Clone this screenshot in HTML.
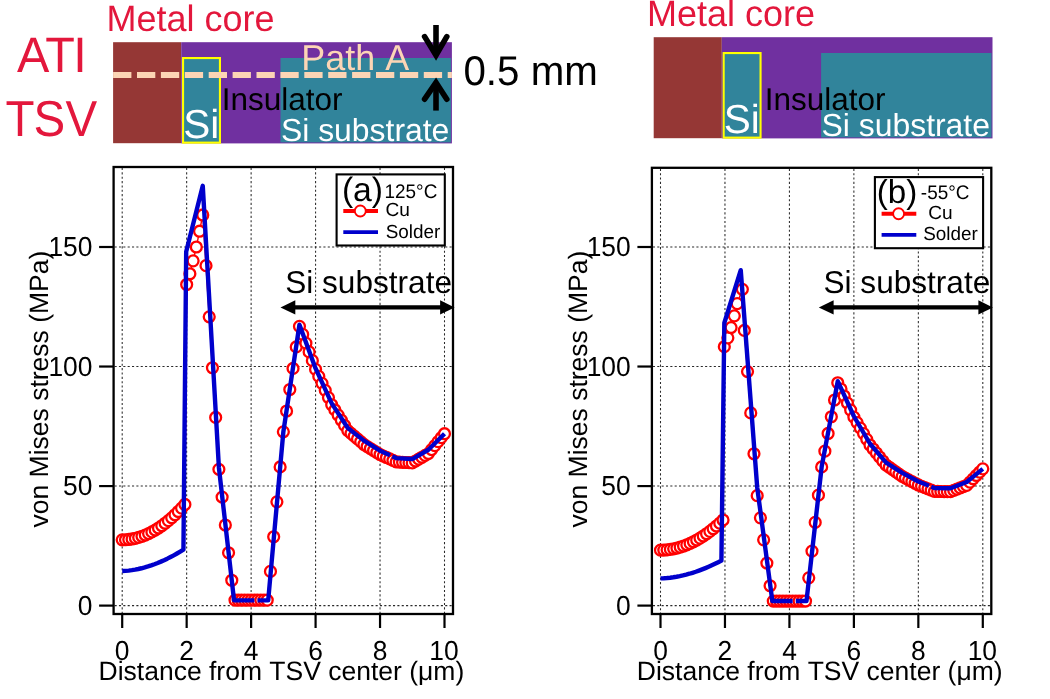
<!DOCTYPE html>
<html><head><meta charset="utf-8"><style>
html,body{margin:0;padding:0;background:#fff;}
body{width:1050px;height:699px;overflow:hidden;}
svg{display:block;will-change:transform;}
text{font-family:"Liberation Sans", sans-serif;font-kerning:none;text-rendering:geometricPrecision;}
</style></head><body>
<svg width="1050" height="699" viewBox="0 0 1050 699" font-family='"Liberation Sans", sans-serif'>
<rect width="1050" height="699" fill="#fff"/>
<rect x="113.10" y="42.20" width="68.10" height="101.00" fill="#953735"/>
<rect x="181.20" y="42.20" width="270.70" height="101.20" fill="#7030a0"/>
<rect x="280.50" y="58.00" width="170.40" height="84.40" fill="#31849b"/>
<rect x="183.05" y="58.05" width="36.9" height="84.6" fill="#31849b" stroke="#ffff00" stroke-width="2.1"/>
<line x1="113.10" y1="74.90" x2="451.90" y2="74.90" stroke="#fcd5b5" stroke-width="6" stroke-dasharray="18.3 5.6"/>
<text x="301.36" y="70.40" font-size="35.9" fill="#fcd5b5" >Path A</text>
<text x="221.69" y="110.10" font-size="31.5" fill="#000" >Insulator</text>
<text x="183.16" y="137.60" font-size="40.5" fill="#fff" >Si</text>
<text x="280.95" y="141.40" font-size="31.9" fill="#fff" >Si substrate</text>
<text transform="translate(106.45,30.60) scale(1,1.02)" x="0" y="0" font-size="36.0" fill="#e3173c" >Metal core</text>
<rect x="653.70" y="37.20" width="68.10" height="101.00" fill="#953735"/>
<rect x="721.80" y="37.20" width="270.70" height="101.20" fill="#7030a0"/>
<rect x="821.10" y="53.00" width="170.40" height="84.40" fill="#31849b"/>
<rect x="723.65" y="53.05" width="36.9" height="84.6" fill="#31849b" stroke="#ffff00" stroke-width="2.1"/>
<text x="764.79" y="109.90" font-size="31.5" fill="#000" >Insulator</text>
<text x="723.76" y="132.60" font-size="40.5" fill="#fff" >Si</text>
<text x="821.55" y="136.40" font-size="31.9" fill="#fff" >Si substrate</text>
<text transform="translate(647.05,25.60) scale(1,1.02)" x="0" y="0" font-size="36.0" fill="#e3173c" >Metal core</text>
<text transform="translate(0,71.9) scale(1,1.027)" x="16.9 45.3 73.3" y="0" font-size="48.5" fill="#e3173c">ATI</text>
<text transform="translate(0,136.0) scale(1,1.065)" x="5.43 33.54 65.49" y="0" font-size="47.5" fill="#e3173c">TSV</text>
<text transform="translate(463.43,84.60) scale(1,1.03)" x="0" y="0" font-size="40.3" fill="#000" >0.5 mm</text>
<g stroke="#000" stroke-width="5.6" fill="none" stroke-linecap="round" stroke-linejoin="miter">
<line x1="436" y1="25" x2="436" y2="54" stroke-linecap="butt"/>
<polyline points="424.6,36.6 436,55.2 446.8,36.6"/>
<line x1="436" y1="84" x2="436" y2="110.6" stroke-linecap="butt"/>
<polyline points="424.6,99.2 436,82.6 446.8,99.2"/>
</g>
<g stroke="#2a2a2a" stroke-width="1.05" stroke-dasharray="2.1 2.25" fill="none">
<line x1="122.20" y1="168.00" x2="122.20" y2="613.00"/>
<line x1="186.66" y1="168.00" x2="186.66" y2="613.00"/>
<line x1="251.12" y1="168.00" x2="251.12" y2="613.00"/>
<line x1="315.58" y1="168.00" x2="315.58" y2="613.00"/>
<line x1="380.04" y1="168.00" x2="380.04" y2="613.00"/>
<line x1="444.50" y1="168.00" x2="444.50" y2="613.00"/>
<line x1="114.60" y1="605.60" x2="452.00" y2="605.60"/>
<line x1="114.60" y1="486.07" x2="452.00" y2="486.07"/>
<line x1="114.60" y1="366.53" x2="452.00" y2="366.53"/>
<line x1="114.60" y1="247.00" x2="452.00" y2="247.00"/>
</g>
<g stroke="#000" stroke-width="2.2">
<line x1="122.20" y1="614.00" x2="122.20" y2="628.00"/>
<line x1="186.66" y1="614.00" x2="186.66" y2="628.00"/>
<line x1="251.12" y1="614.00" x2="251.12" y2="628.00"/>
<line x1="315.58" y1="614.00" x2="315.58" y2="628.00"/>
<line x1="380.04" y1="614.00" x2="380.04" y2="628.00"/>
<line x1="444.50" y1="614.00" x2="444.50" y2="628.00"/>
<line x1="99.10" y1="605.60" x2="113.60" y2="605.60"/>
<line x1="99.10" y1="486.07" x2="113.60" y2="486.07"/>
<line x1="99.10" y1="366.53" x2="113.60" y2="366.53"/>
<line x1="99.10" y1="247.00" x2="113.60" y2="247.00"/>
</g>
<text transform="translate(114.86,660.00) scale(1,1.04)" font-size="26.4" fill="#000">0</text>
<text transform="translate(179.32,660.00) scale(1,1.04)" font-size="26.4" fill="#000">2</text>
<text transform="translate(243.86,660.00) scale(1,1.04)" font-size="26.4" fill="#000">4</text>
<text transform="translate(308.15,660.00) scale(1,1.04)" font-size="26.4" fill="#000">6</text>
<text transform="translate(372.70,660.00) scale(1,1.04)" font-size="26.4" fill="#000">8</text>
<text transform="translate(429.33,660.00) scale(1,1.04)" font-size="26.4" fill="#000">10</text>
<text transform="translate(77.75,615.00) scale(1,1.04)" font-size="26.4" fill="#000">0</text>
<text transform="translate(63.07,495.47) scale(1,1.04)" font-size="26.4" fill="#000">50</text>
<text transform="translate(48.38,375.93) scale(1,1.04)" font-size="26.4" fill="#000">100</text>
<text transform="translate(48.38,256.40) scale(1,1.04)" font-size="26.4" fill="#000">150</text>
<text x="98.53" y="680.00" font-size="26.5" fill="#000" >Distance from TSV center (μm)</text>
<text transform="translate(48.30,527.49) rotate(-90)" x="0" y="0" font-size="26.5">von Mises stress (MPa)</text>
<text x="285.17" y="292.60" font-size="31.6" fill="#000" >Si substrate</text>
<line x1="293.00" y1="307.4" x2="442.00" y2="307.4" stroke="#000" stroke-width="4.4"/>
<polygon points="280.50,307.4 295.30,300.2 295.30,314.59999999999997" fill="#000"/>
<polygon points="454.60,307.4 440.10,300.2 440.10,314.59999999999997" fill="#000"/>
<polyline points="122.20,539.86 125.50,539.76 128.80,539.46 132.10,538.97 135.40,538.29 138.70,537.41 142.00,536.33 145.30,535.05 148.59,533.58 151.89,531.92 155.19,530.05 158.49,528.00 161.79,525.74 165.09,523.29 168.39,520.65 171.69,517.80 174.99,514.76 178.29,511.53 181.59,508.10 184.89,504.47 186.66,284.53 189.88,273.77 193.11,260.86 196.33,247.00 199.55,231.22 202.77,214.96 206.00,265.64 209.22,316.80 212.44,367.73 215.67,417.45 218.89,469.33 222.11,497.06 225.34,525.03 228.56,552.77 231.78,580.26 235.00,600.10 238.23,600.10 241.45,600.10 244.67,600.10 247.90,600.10 251.12,600.10 254.34,600.10 257.57,600.10 260.79,600.10 264.01,600.10 267.24,600.10 270.46,571.41 273.68,536.75 276.90,501.84 280.13,466.94 283.35,431.80 286.57,411.00 289.80,389.48 293.02,368.44 296.24,346.93 299.46,326.37 302.69,334.40 305.91,343.15 309.13,351.90 312.36,360.65 315.58,369.40 318.80,376.38 322.03,383.36 325.25,390.34 328.47,397.56 331.69,404.78 334.92,409.95 338.14,415.11 341.36,420.27 344.59,425.44 347.81,430.60 351.03,433.37 354.26,436.15 357.48,438.92 360.70,441.69 363.92,444.47 367.15,446.48 370.37,448.48 373.59,450.49 376.82,452.50 380.04,454.51 383.26,455.99 386.49,457.47 389.71,458.95 392.93,460.44 396.15,461.92 399.38,462.11 402.60,462.30 405.82,462.49 409.05,462.68 412.27,462.88 415.49,461.01 418.72,459.15 421.94,457.28 425.16,455.42 428.38,453.55 431.61,449.58 434.83,445.61 438.05,441.65 441.28,437.68 444.50,433.71" fill="none" stroke="#ff0000" stroke-width="1.4"/>
<circle cx="122.20" cy="539.86" r="5.45" fill="#fff" stroke="#ff0000" stroke-width="2.3"/>
<circle cx="125.50" cy="539.76" r="5.45" fill="#fff" stroke="#ff0000" stroke-width="2.3"/>
<circle cx="128.80" cy="539.46" r="5.45" fill="#fff" stroke="#ff0000" stroke-width="2.3"/>
<circle cx="132.10" cy="538.97" r="5.45" fill="#fff" stroke="#ff0000" stroke-width="2.3"/>
<circle cx="135.40" cy="538.29" r="5.45" fill="#fff" stroke="#ff0000" stroke-width="2.3"/>
<circle cx="138.70" cy="537.41" r="5.45" fill="#fff" stroke="#ff0000" stroke-width="2.3"/>
<circle cx="142.00" cy="536.33" r="5.45" fill="#fff" stroke="#ff0000" stroke-width="2.3"/>
<circle cx="145.30" cy="535.05" r="5.45" fill="#fff" stroke="#ff0000" stroke-width="2.3"/>
<circle cx="148.59" cy="533.58" r="5.45" fill="#fff" stroke="#ff0000" stroke-width="2.3"/>
<circle cx="151.89" cy="531.92" r="5.45" fill="#fff" stroke="#ff0000" stroke-width="2.3"/>
<circle cx="155.19" cy="530.05" r="5.45" fill="#fff" stroke="#ff0000" stroke-width="2.3"/>
<circle cx="158.49" cy="528.00" r="5.45" fill="#fff" stroke="#ff0000" stroke-width="2.3"/>
<circle cx="161.79" cy="525.74" r="5.45" fill="#fff" stroke="#ff0000" stroke-width="2.3"/>
<circle cx="165.09" cy="523.29" r="5.45" fill="#fff" stroke="#ff0000" stroke-width="2.3"/>
<circle cx="168.39" cy="520.65" r="5.45" fill="#fff" stroke="#ff0000" stroke-width="2.3"/>
<circle cx="171.69" cy="517.80" r="5.45" fill="#fff" stroke="#ff0000" stroke-width="2.3"/>
<circle cx="174.99" cy="514.76" r="5.45" fill="#fff" stroke="#ff0000" stroke-width="2.3"/>
<circle cx="178.29" cy="511.53" r="5.45" fill="#fff" stroke="#ff0000" stroke-width="2.3"/>
<circle cx="181.59" cy="508.10" r="5.45" fill="#fff" stroke="#ff0000" stroke-width="2.3"/>
<circle cx="184.89" cy="504.47" r="5.45" fill="#fff" stroke="#ff0000" stroke-width="2.3"/>
<circle cx="186.66" cy="284.53" r="5.45" fill="#fff" stroke="#ff0000" stroke-width="2.3"/>
<circle cx="189.88" cy="273.77" r="5.45" fill="#fff" stroke="#ff0000" stroke-width="2.3"/>
<circle cx="193.11" cy="260.86" r="5.45" fill="#fff" stroke="#ff0000" stroke-width="2.3"/>
<circle cx="196.33" cy="247.00" r="5.45" fill="#fff" stroke="#ff0000" stroke-width="2.3"/>
<circle cx="199.55" cy="231.22" r="5.45" fill="#fff" stroke="#ff0000" stroke-width="2.3"/>
<circle cx="202.77" cy="214.96" r="5.45" fill="#fff" stroke="#ff0000" stroke-width="2.3"/>
<circle cx="206.00" cy="265.64" r="5.45" fill="#fff" stroke="#ff0000" stroke-width="2.3"/>
<circle cx="209.22" cy="316.80" r="5.45" fill="#fff" stroke="#ff0000" stroke-width="2.3"/>
<circle cx="212.44" cy="367.73" r="5.45" fill="#fff" stroke="#ff0000" stroke-width="2.3"/>
<circle cx="215.67" cy="417.45" r="5.45" fill="#fff" stroke="#ff0000" stroke-width="2.3"/>
<circle cx="218.89" cy="469.33" r="5.45" fill="#fff" stroke="#ff0000" stroke-width="2.3"/>
<circle cx="222.11" cy="497.06" r="5.45" fill="#fff" stroke="#ff0000" stroke-width="2.3"/>
<circle cx="225.34" cy="525.03" r="5.45" fill="#fff" stroke="#ff0000" stroke-width="2.3"/>
<circle cx="228.56" cy="552.77" r="5.45" fill="#fff" stroke="#ff0000" stroke-width="2.3"/>
<circle cx="231.78" cy="580.26" r="5.45" fill="#fff" stroke="#ff0000" stroke-width="2.3"/>
<circle cx="235.00" cy="600.10" r="5.45" fill="#fff" stroke="#ff0000" stroke-width="2.3"/>
<circle cx="238.23" cy="600.10" r="5.45" fill="#fff" stroke="#ff0000" stroke-width="2.3"/>
<circle cx="241.45" cy="600.10" r="5.45" fill="#fff" stroke="#ff0000" stroke-width="2.3"/>
<circle cx="244.67" cy="600.10" r="5.45" fill="#fff" stroke="#ff0000" stroke-width="2.3"/>
<circle cx="247.90" cy="600.10" r="5.45" fill="#fff" stroke="#ff0000" stroke-width="2.3"/>
<circle cx="251.12" cy="600.10" r="5.45" fill="#fff" stroke="#ff0000" stroke-width="2.3"/>
<circle cx="254.34" cy="600.10" r="5.45" fill="#fff" stroke="#ff0000" stroke-width="2.3"/>
<circle cx="257.57" cy="600.10" r="5.45" fill="#fff" stroke="#ff0000" stroke-width="2.3"/>
<circle cx="260.79" cy="600.10" r="5.45" fill="#fff" stroke="#ff0000" stroke-width="2.3"/>
<circle cx="264.01" cy="600.10" r="5.45" fill="#fff" stroke="#ff0000" stroke-width="2.3"/>
<circle cx="267.24" cy="600.10" r="5.45" fill="#fff" stroke="#ff0000" stroke-width="2.3"/>
<circle cx="270.46" cy="571.41" r="5.45" fill="#fff" stroke="#ff0000" stroke-width="2.3"/>
<circle cx="273.68" cy="536.75" r="5.45" fill="#fff" stroke="#ff0000" stroke-width="2.3"/>
<circle cx="276.90" cy="501.84" r="5.45" fill="#fff" stroke="#ff0000" stroke-width="2.3"/>
<circle cx="280.13" cy="466.94" r="5.45" fill="#fff" stroke="#ff0000" stroke-width="2.3"/>
<circle cx="283.35" cy="431.80" r="5.45" fill="#fff" stroke="#ff0000" stroke-width="2.3"/>
<circle cx="286.57" cy="411.00" r="5.45" fill="#fff" stroke="#ff0000" stroke-width="2.3"/>
<circle cx="289.80" cy="389.48" r="5.45" fill="#fff" stroke="#ff0000" stroke-width="2.3"/>
<circle cx="293.02" cy="368.44" r="5.45" fill="#fff" stroke="#ff0000" stroke-width="2.3"/>
<circle cx="296.24" cy="346.93" r="5.45" fill="#fff" stroke="#ff0000" stroke-width="2.3"/>
<circle cx="299.46" cy="326.37" r="5.45" fill="#fff" stroke="#ff0000" stroke-width="2.3"/>
<circle cx="302.69" cy="334.40" r="5.45" fill="#fff" stroke="#ff0000" stroke-width="2.3"/>
<circle cx="305.91" cy="343.15" r="5.45" fill="#fff" stroke="#ff0000" stroke-width="2.3"/>
<circle cx="309.13" cy="351.90" r="5.45" fill="#fff" stroke="#ff0000" stroke-width="2.3"/>
<circle cx="312.36" cy="360.65" r="5.45" fill="#fff" stroke="#ff0000" stroke-width="2.3"/>
<circle cx="315.58" cy="369.40" r="5.45" fill="#fff" stroke="#ff0000" stroke-width="2.3"/>
<circle cx="318.80" cy="376.38" r="5.45" fill="#fff" stroke="#ff0000" stroke-width="2.3"/>
<circle cx="322.03" cy="383.36" r="5.45" fill="#fff" stroke="#ff0000" stroke-width="2.3"/>
<circle cx="325.25" cy="390.34" r="5.45" fill="#fff" stroke="#ff0000" stroke-width="2.3"/>
<circle cx="328.47" cy="397.56" r="5.45" fill="#fff" stroke="#ff0000" stroke-width="2.3"/>
<circle cx="331.69" cy="404.78" r="5.45" fill="#fff" stroke="#ff0000" stroke-width="2.3"/>
<circle cx="334.92" cy="409.95" r="5.45" fill="#fff" stroke="#ff0000" stroke-width="2.3"/>
<circle cx="338.14" cy="415.11" r="5.45" fill="#fff" stroke="#ff0000" stroke-width="2.3"/>
<circle cx="341.36" cy="420.27" r="5.45" fill="#fff" stroke="#ff0000" stroke-width="2.3"/>
<circle cx="344.59" cy="425.44" r="5.45" fill="#fff" stroke="#ff0000" stroke-width="2.3"/>
<circle cx="347.81" cy="430.60" r="5.45" fill="#fff" stroke="#ff0000" stroke-width="2.3"/>
<circle cx="351.03" cy="433.37" r="5.45" fill="#fff" stroke="#ff0000" stroke-width="2.3"/>
<circle cx="354.26" cy="436.15" r="5.45" fill="#fff" stroke="#ff0000" stroke-width="2.3"/>
<circle cx="357.48" cy="438.92" r="5.45" fill="#fff" stroke="#ff0000" stroke-width="2.3"/>
<circle cx="360.70" cy="441.69" r="5.45" fill="#fff" stroke="#ff0000" stroke-width="2.3"/>
<circle cx="363.92" cy="444.47" r="5.45" fill="#fff" stroke="#ff0000" stroke-width="2.3"/>
<circle cx="367.15" cy="446.48" r="5.45" fill="#fff" stroke="#ff0000" stroke-width="2.3"/>
<circle cx="370.37" cy="448.48" r="5.45" fill="#fff" stroke="#ff0000" stroke-width="2.3"/>
<circle cx="373.59" cy="450.49" r="5.45" fill="#fff" stroke="#ff0000" stroke-width="2.3"/>
<circle cx="376.82" cy="452.50" r="5.45" fill="#fff" stroke="#ff0000" stroke-width="2.3"/>
<circle cx="380.04" cy="454.51" r="5.45" fill="#fff" stroke="#ff0000" stroke-width="2.3"/>
<circle cx="383.26" cy="455.99" r="5.45" fill="#fff" stroke="#ff0000" stroke-width="2.3"/>
<circle cx="386.49" cy="457.47" r="5.45" fill="#fff" stroke="#ff0000" stroke-width="2.3"/>
<circle cx="389.71" cy="458.95" r="5.45" fill="#fff" stroke="#ff0000" stroke-width="2.3"/>
<circle cx="392.93" cy="460.44" r="5.45" fill="#fff" stroke="#ff0000" stroke-width="2.3"/>
<circle cx="396.15" cy="461.92" r="5.45" fill="#fff" stroke="#ff0000" stroke-width="2.3"/>
<circle cx="399.38" cy="462.11" r="5.45" fill="#fff" stroke="#ff0000" stroke-width="2.3"/>
<circle cx="402.60" cy="462.30" r="5.45" fill="#fff" stroke="#ff0000" stroke-width="2.3"/>
<circle cx="405.82" cy="462.49" r="5.45" fill="#fff" stroke="#ff0000" stroke-width="2.3"/>
<circle cx="409.05" cy="462.68" r="5.45" fill="#fff" stroke="#ff0000" stroke-width="2.3"/>
<circle cx="412.27" cy="462.88" r="5.45" fill="#fff" stroke="#ff0000" stroke-width="2.3"/>
<circle cx="415.49" cy="461.01" r="5.45" fill="#fff" stroke="#ff0000" stroke-width="2.3"/>
<circle cx="418.72" cy="459.15" r="5.45" fill="#fff" stroke="#ff0000" stroke-width="2.3"/>
<circle cx="421.94" cy="457.28" r="5.45" fill="#fff" stroke="#ff0000" stroke-width="2.3"/>
<circle cx="425.16" cy="455.42" r="5.45" fill="#fff" stroke="#ff0000" stroke-width="2.3"/>
<circle cx="428.38" cy="453.55" r="5.45" fill="#fff" stroke="#ff0000" stroke-width="2.3"/>
<circle cx="431.61" cy="449.58" r="5.45" fill="#fff" stroke="#ff0000" stroke-width="2.3"/>
<circle cx="434.83" cy="445.61" r="5.45" fill="#fff" stroke="#ff0000" stroke-width="2.3"/>
<circle cx="438.05" cy="441.65" r="5.45" fill="#fff" stroke="#ff0000" stroke-width="2.3"/>
<circle cx="441.28" cy="437.68" r="5.45" fill="#fff" stroke="#ff0000" stroke-width="2.3"/>
<circle cx="444.50" cy="433.71" r="5.45" fill="#fff" stroke="#ff0000" stroke-width="2.3"/>
<polyline points="122.20,570.93 125.42,570.83 128.65,570.57 131.87,570.17 135.09,569.65 138.31,569.01 141.54,568.26 144.76,567.41 147.98,566.45 151.21,565.39 154.43,564.23 157.65,562.98 160.88,561.63 164.10,560.19 167.32,558.66 170.55,557.03 173.77,555.32 176.99,553.52 180.21,551.63 183.44,549.66 186.18,251.78 202.77,185.79 218.89,467.42 234.04,600.34 254.34,600.34" fill="none" stroke="#0000cc" stroke-width="4.4" stroke-linejoin="round"/>
<polyline points="257.57,600.34 268.20,600.34 283.35,431.80 299.46,324.69 315.58,368.44 331.69,403.35 347.81,427.97 363.92,440.64 380.04,450.68 390.03,455.28" fill="none" stroke="#0000cc" stroke-width="4.4" stroke-linejoin="round"/>
<polyline points="392.29,456.32 396.15,458.09 412.27,459.05 428.38,449.73 444.50,433.71" fill="none" stroke="#0000cc" stroke-width="4.4" stroke-linejoin="round"/>
<rect x="113.60" y="167.00" width="339.40" height="447.00" fill="none" stroke="#000" stroke-width="2.3"/>
<rect x="336.60" y="174.40" width="108.20" height="71.10" fill="#fff" stroke="#000" stroke-width="2.1"/>
<text x="341.91" y="200.70" font-size="33.7" fill="#000" >(a)</text>
<text transform="translate(384.56,198.00) scale(1,1.04)" x="0" y="0" font-size="18.9" fill="#000" >125°C</text>
<line x1="343.30" y1="211.00" x2="378.00" y2="211.00" stroke="#ff0000" stroke-width="3.9"/>
<circle cx="360.30" cy="211.00" r="5.5" fill="#fff" stroke="#ff0000" stroke-width="1.9"/>
<line x1="343.30" y1="232.10" x2="378.00" y2="232.10" stroke="#0000cc" stroke-width="3.8"/>
<g stroke="#2a2a2a" stroke-width="1.05" stroke-dasharray="2.1 2.25" fill="none">
<line x1="660.50" y1="168.80" x2="660.50" y2="613.00"/>
<line x1="724.96" y1="168.80" x2="724.96" y2="613.00"/>
<line x1="789.42" y1="168.80" x2="789.42" y2="613.00"/>
<line x1="853.88" y1="168.80" x2="853.88" y2="613.00"/>
<line x1="918.34" y1="168.80" x2="918.34" y2="613.00"/>
<line x1="982.80" y1="168.80" x2="982.80" y2="613.00"/>
<line x1="652.90" y1="605.60" x2="990.30" y2="605.60"/>
<line x1="652.90" y1="486.07" x2="990.30" y2="486.07"/>
<line x1="652.90" y1="366.53" x2="990.30" y2="366.53"/>
<line x1="652.90" y1="247.00" x2="990.30" y2="247.00"/>
</g>
<g stroke="#000" stroke-width="2.2">
<line x1="660.50" y1="614.00" x2="660.50" y2="628.00"/>
<line x1="724.96" y1="614.00" x2="724.96" y2="628.00"/>
<line x1="789.42" y1="614.00" x2="789.42" y2="628.00"/>
<line x1="853.88" y1="614.00" x2="853.88" y2="628.00"/>
<line x1="918.34" y1="614.00" x2="918.34" y2="628.00"/>
<line x1="982.80" y1="614.00" x2="982.80" y2="628.00"/>
<line x1="637.40" y1="605.60" x2="651.90" y2="605.60"/>
<line x1="637.40" y1="486.07" x2="651.90" y2="486.07"/>
<line x1="637.40" y1="366.53" x2="651.90" y2="366.53"/>
<line x1="637.40" y1="247.00" x2="651.90" y2="247.00"/>
</g>
<text transform="translate(653.16,660.00) scale(1,1.04)" font-size="26.4" fill="#000">0</text>
<text transform="translate(717.62,660.00) scale(1,1.04)" font-size="26.4" fill="#000">2</text>
<text transform="translate(782.16,660.00) scale(1,1.04)" font-size="26.4" fill="#000">4</text>
<text transform="translate(846.45,660.00) scale(1,1.04)" font-size="26.4" fill="#000">6</text>
<text transform="translate(911.00,660.00) scale(1,1.04)" font-size="26.4" fill="#000">8</text>
<text transform="translate(967.63,660.00) scale(1,1.04)" font-size="26.4" fill="#000">10</text>
<text transform="translate(616.05,615.00) scale(1,1.04)" font-size="26.4" fill="#000">0</text>
<text transform="translate(601.37,495.47) scale(1,1.04)" font-size="26.4" fill="#000">50</text>
<text transform="translate(586.68,375.93) scale(1,1.04)" font-size="26.4" fill="#000">100</text>
<text transform="translate(586.68,256.40) scale(1,1.04)" font-size="26.4" fill="#000">150</text>
<text x="636.83" y="680.00" font-size="26.5" fill="#000" >Distance from TSV center (μm)</text>
<text transform="translate(586.60,527.49) rotate(-90)" x="0" y="0" font-size="26.5">von Mises stress (MPa)</text>
<text x="823.47" y="292.60" font-size="31.6" fill="#000" >Si substrate</text>
<line x1="831.30" y1="307.4" x2="980.30" y2="307.4" stroke="#000" stroke-width="4.4"/>
<polygon points="818.80,307.4 833.60,300.2 833.60,314.59999999999997" fill="#000"/>
<polygon points="992.90,307.4 978.40,300.2 978.40,314.59999999999997" fill="#000"/>
<polyline points="660.50,550.14 663.79,550.05 667.08,549.80 670.37,549.38 673.66,548.80 676.95,548.05 680.25,547.13 683.54,546.05 686.83,544.80 690.12,543.38 693.41,541.79 696.70,540.04 699.99,538.12 703.28,536.03 706.57,533.78 709.86,531.36 713.15,528.77 716.44,526.02 719.74,523.10 723.03,520.01 724.32,346.69 727.86,337.84 731.08,327.56 734.31,315.85 737.21,303.65 742.36,289.31 744.30,330.43 747.52,371.55 750.74,412.91 753.97,453.79 757.19,495.63 760.41,517.86 763.64,539.86 766.86,563.05 770.08,585.76 773.30,601.06 776.53,601.06 779.75,601.06 782.97,601.06 786.20,601.06 789.42,601.06 792.64,601.06 795.87,601.06 799.09,601.06 802.31,601.06 805.53,601.06 808.76,577.87 811.98,551.09 815.20,522.40 818.43,495.15 821.65,466.94 824.87,451.16 828.10,433.47 831.32,416.73 834.54,400.00 837.76,382.79 840.99,389.00 844.21,396.03 847.43,403.06 850.66,410.09 853.88,417.12 857.10,422.62 860.33,428.11 863.55,433.61 866.77,439.33 870.00,445.04 873.22,449.03 876.44,453.03 879.66,457.02 882.89,461.01 886.11,465.00 889.33,467.27 892.56,469.55 895.78,471.82 899.00,474.09 902.22,476.36 905.45,478.08 908.67,479.80 911.89,481.52 915.12,483.24 918.34,484.97 921.56,486.26 924.79,487.55 928.01,488.84 931.23,490.13 934.45,491.42 937.68,491.47 940.90,491.52 944.12,491.56 947.35,491.61 950.57,491.66 953.79,490.42 957.02,489.17 960.24,487.93 963.46,486.69 966.68,485.44 969.91,482.13 973.13,478.81 976.35,475.49 979.58,472.17 982.80,468.85" fill="none" stroke="#ff0000" stroke-width="1.4"/>
<circle cx="660.50" cy="550.14" r="5.45" fill="#fff" stroke="#ff0000" stroke-width="2.3"/>
<circle cx="663.79" cy="550.05" r="5.45" fill="#fff" stroke="#ff0000" stroke-width="2.3"/>
<circle cx="667.08" cy="549.80" r="5.45" fill="#fff" stroke="#ff0000" stroke-width="2.3"/>
<circle cx="670.37" cy="549.38" r="5.45" fill="#fff" stroke="#ff0000" stroke-width="2.3"/>
<circle cx="673.66" cy="548.80" r="5.45" fill="#fff" stroke="#ff0000" stroke-width="2.3"/>
<circle cx="676.95" cy="548.05" r="5.45" fill="#fff" stroke="#ff0000" stroke-width="2.3"/>
<circle cx="680.25" cy="547.13" r="5.45" fill="#fff" stroke="#ff0000" stroke-width="2.3"/>
<circle cx="683.54" cy="546.05" r="5.45" fill="#fff" stroke="#ff0000" stroke-width="2.3"/>
<circle cx="686.83" cy="544.80" r="5.45" fill="#fff" stroke="#ff0000" stroke-width="2.3"/>
<circle cx="690.12" cy="543.38" r="5.45" fill="#fff" stroke="#ff0000" stroke-width="2.3"/>
<circle cx="693.41" cy="541.79" r="5.45" fill="#fff" stroke="#ff0000" stroke-width="2.3"/>
<circle cx="696.70" cy="540.04" r="5.45" fill="#fff" stroke="#ff0000" stroke-width="2.3"/>
<circle cx="699.99" cy="538.12" r="5.45" fill="#fff" stroke="#ff0000" stroke-width="2.3"/>
<circle cx="703.28" cy="536.03" r="5.45" fill="#fff" stroke="#ff0000" stroke-width="2.3"/>
<circle cx="706.57" cy="533.78" r="5.45" fill="#fff" stroke="#ff0000" stroke-width="2.3"/>
<circle cx="709.86" cy="531.36" r="5.45" fill="#fff" stroke="#ff0000" stroke-width="2.3"/>
<circle cx="713.15" cy="528.77" r="5.45" fill="#fff" stroke="#ff0000" stroke-width="2.3"/>
<circle cx="716.44" cy="526.02" r="5.45" fill="#fff" stroke="#ff0000" stroke-width="2.3"/>
<circle cx="719.74" cy="523.10" r="5.45" fill="#fff" stroke="#ff0000" stroke-width="2.3"/>
<circle cx="723.03" cy="520.01" r="5.45" fill="#fff" stroke="#ff0000" stroke-width="2.3"/>
<circle cx="724.32" cy="346.69" r="5.45" fill="#fff" stroke="#ff0000" stroke-width="2.3"/>
<circle cx="727.86" cy="337.84" r="5.45" fill="#fff" stroke="#ff0000" stroke-width="2.3"/>
<circle cx="731.08" cy="327.56" r="5.45" fill="#fff" stroke="#ff0000" stroke-width="2.3"/>
<circle cx="734.31" cy="315.85" r="5.45" fill="#fff" stroke="#ff0000" stroke-width="2.3"/>
<circle cx="737.21" cy="303.65" r="5.45" fill="#fff" stroke="#ff0000" stroke-width="2.3"/>
<circle cx="742.36" cy="289.31" r="5.45" fill="#fff" stroke="#ff0000" stroke-width="2.3"/>
<circle cx="744.30" cy="330.43" r="5.45" fill="#fff" stroke="#ff0000" stroke-width="2.3"/>
<circle cx="747.52" cy="371.55" r="5.45" fill="#fff" stroke="#ff0000" stroke-width="2.3"/>
<circle cx="750.74" cy="412.91" r="5.45" fill="#fff" stroke="#ff0000" stroke-width="2.3"/>
<circle cx="753.97" cy="453.79" r="5.45" fill="#fff" stroke="#ff0000" stroke-width="2.3"/>
<circle cx="757.19" cy="495.63" r="5.45" fill="#fff" stroke="#ff0000" stroke-width="2.3"/>
<circle cx="760.41" cy="517.86" r="5.45" fill="#fff" stroke="#ff0000" stroke-width="2.3"/>
<circle cx="763.64" cy="539.86" r="5.45" fill="#fff" stroke="#ff0000" stroke-width="2.3"/>
<circle cx="766.86" cy="563.05" r="5.45" fill="#fff" stroke="#ff0000" stroke-width="2.3"/>
<circle cx="770.08" cy="585.76" r="5.45" fill="#fff" stroke="#ff0000" stroke-width="2.3"/>
<circle cx="773.30" cy="601.06" r="5.45" fill="#fff" stroke="#ff0000" stroke-width="2.3"/>
<circle cx="776.53" cy="601.06" r="5.45" fill="#fff" stroke="#ff0000" stroke-width="2.3"/>
<circle cx="779.75" cy="601.06" r="5.45" fill="#fff" stroke="#ff0000" stroke-width="2.3"/>
<circle cx="782.97" cy="601.06" r="5.45" fill="#fff" stroke="#ff0000" stroke-width="2.3"/>
<circle cx="786.20" cy="601.06" r="5.45" fill="#fff" stroke="#ff0000" stroke-width="2.3"/>
<circle cx="789.42" cy="601.06" r="5.45" fill="#fff" stroke="#ff0000" stroke-width="2.3"/>
<circle cx="792.64" cy="601.06" r="5.45" fill="#fff" stroke="#ff0000" stroke-width="2.3"/>
<circle cx="795.87" cy="601.06" r="5.45" fill="#fff" stroke="#ff0000" stroke-width="2.3"/>
<circle cx="799.09" cy="601.06" r="5.45" fill="#fff" stroke="#ff0000" stroke-width="2.3"/>
<circle cx="802.31" cy="601.06" r="5.45" fill="#fff" stroke="#ff0000" stroke-width="2.3"/>
<circle cx="805.53" cy="601.06" r="5.45" fill="#fff" stroke="#ff0000" stroke-width="2.3"/>
<circle cx="808.76" cy="577.87" r="5.45" fill="#fff" stroke="#ff0000" stroke-width="2.3"/>
<circle cx="811.98" cy="551.09" r="5.45" fill="#fff" stroke="#ff0000" stroke-width="2.3"/>
<circle cx="815.20" cy="522.40" r="5.45" fill="#fff" stroke="#ff0000" stroke-width="2.3"/>
<circle cx="818.43" cy="495.15" r="5.45" fill="#fff" stroke="#ff0000" stroke-width="2.3"/>
<circle cx="821.65" cy="466.94" r="5.45" fill="#fff" stroke="#ff0000" stroke-width="2.3"/>
<circle cx="824.87" cy="451.16" r="5.45" fill="#fff" stroke="#ff0000" stroke-width="2.3"/>
<circle cx="828.10" cy="433.47" r="5.45" fill="#fff" stroke="#ff0000" stroke-width="2.3"/>
<circle cx="831.32" cy="416.73" r="5.45" fill="#fff" stroke="#ff0000" stroke-width="2.3"/>
<circle cx="834.54" cy="400.00" r="5.45" fill="#fff" stroke="#ff0000" stroke-width="2.3"/>
<circle cx="837.76" cy="382.79" r="5.45" fill="#fff" stroke="#ff0000" stroke-width="2.3"/>
<circle cx="840.99" cy="389.00" r="5.45" fill="#fff" stroke="#ff0000" stroke-width="2.3"/>
<circle cx="844.21" cy="396.03" r="5.45" fill="#fff" stroke="#ff0000" stroke-width="2.3"/>
<circle cx="847.43" cy="403.06" r="5.45" fill="#fff" stroke="#ff0000" stroke-width="2.3"/>
<circle cx="850.66" cy="410.09" r="5.45" fill="#fff" stroke="#ff0000" stroke-width="2.3"/>
<circle cx="853.88" cy="417.12" r="5.45" fill="#fff" stroke="#ff0000" stroke-width="2.3"/>
<circle cx="857.10" cy="422.62" r="5.45" fill="#fff" stroke="#ff0000" stroke-width="2.3"/>
<circle cx="860.33" cy="428.11" r="5.45" fill="#fff" stroke="#ff0000" stroke-width="2.3"/>
<circle cx="863.55" cy="433.61" r="5.45" fill="#fff" stroke="#ff0000" stroke-width="2.3"/>
<circle cx="866.77" cy="439.33" r="5.45" fill="#fff" stroke="#ff0000" stroke-width="2.3"/>
<circle cx="870.00" cy="445.04" r="5.45" fill="#fff" stroke="#ff0000" stroke-width="2.3"/>
<circle cx="873.22" cy="449.03" r="5.45" fill="#fff" stroke="#ff0000" stroke-width="2.3"/>
<circle cx="876.44" cy="453.03" r="5.45" fill="#fff" stroke="#ff0000" stroke-width="2.3"/>
<circle cx="879.66" cy="457.02" r="5.45" fill="#fff" stroke="#ff0000" stroke-width="2.3"/>
<circle cx="882.89" cy="461.01" r="5.45" fill="#fff" stroke="#ff0000" stroke-width="2.3"/>
<circle cx="886.11" cy="465.00" r="5.45" fill="#fff" stroke="#ff0000" stroke-width="2.3"/>
<circle cx="889.33" cy="467.27" r="5.45" fill="#fff" stroke="#ff0000" stroke-width="2.3"/>
<circle cx="892.56" cy="469.55" r="5.45" fill="#fff" stroke="#ff0000" stroke-width="2.3"/>
<circle cx="895.78" cy="471.82" r="5.45" fill="#fff" stroke="#ff0000" stroke-width="2.3"/>
<circle cx="899.00" cy="474.09" r="5.45" fill="#fff" stroke="#ff0000" stroke-width="2.3"/>
<circle cx="902.22" cy="476.36" r="5.45" fill="#fff" stroke="#ff0000" stroke-width="2.3"/>
<circle cx="905.45" cy="478.08" r="5.45" fill="#fff" stroke="#ff0000" stroke-width="2.3"/>
<circle cx="908.67" cy="479.80" r="5.45" fill="#fff" stroke="#ff0000" stroke-width="2.3"/>
<circle cx="911.89" cy="481.52" r="5.45" fill="#fff" stroke="#ff0000" stroke-width="2.3"/>
<circle cx="915.12" cy="483.24" r="5.45" fill="#fff" stroke="#ff0000" stroke-width="2.3"/>
<circle cx="918.34" cy="484.97" r="5.45" fill="#fff" stroke="#ff0000" stroke-width="2.3"/>
<circle cx="921.56" cy="486.26" r="5.45" fill="#fff" stroke="#ff0000" stroke-width="2.3"/>
<circle cx="924.79" cy="487.55" r="5.45" fill="#fff" stroke="#ff0000" stroke-width="2.3"/>
<circle cx="928.01" cy="488.84" r="5.45" fill="#fff" stroke="#ff0000" stroke-width="2.3"/>
<circle cx="931.23" cy="490.13" r="5.45" fill="#fff" stroke="#ff0000" stroke-width="2.3"/>
<circle cx="934.45" cy="491.42" r="5.45" fill="#fff" stroke="#ff0000" stroke-width="2.3"/>
<circle cx="937.68" cy="491.47" r="5.45" fill="#fff" stroke="#ff0000" stroke-width="2.3"/>
<circle cx="940.90" cy="491.52" r="5.45" fill="#fff" stroke="#ff0000" stroke-width="2.3"/>
<circle cx="944.12" cy="491.56" r="5.45" fill="#fff" stroke="#ff0000" stroke-width="2.3"/>
<circle cx="947.35" cy="491.61" r="5.45" fill="#fff" stroke="#ff0000" stroke-width="2.3"/>
<circle cx="950.57" cy="491.66" r="5.45" fill="#fff" stroke="#ff0000" stroke-width="2.3"/>
<circle cx="953.79" cy="490.42" r="5.45" fill="#fff" stroke="#ff0000" stroke-width="2.3"/>
<circle cx="957.02" cy="489.17" r="5.45" fill="#fff" stroke="#ff0000" stroke-width="2.3"/>
<circle cx="960.24" cy="487.93" r="5.45" fill="#fff" stroke="#ff0000" stroke-width="2.3"/>
<circle cx="963.46" cy="486.69" r="5.45" fill="#fff" stroke="#ff0000" stroke-width="2.3"/>
<circle cx="966.68" cy="485.44" r="5.45" fill="#fff" stroke="#ff0000" stroke-width="2.3"/>
<circle cx="969.91" cy="482.13" r="5.45" fill="#fff" stroke="#ff0000" stroke-width="2.3"/>
<circle cx="973.13" cy="478.81" r="5.45" fill="#fff" stroke="#ff0000" stroke-width="2.3"/>
<circle cx="976.35" cy="475.49" r="5.45" fill="#fff" stroke="#ff0000" stroke-width="2.3"/>
<circle cx="979.58" cy="472.17" r="5.45" fill="#fff" stroke="#ff0000" stroke-width="2.3"/>
<circle cx="982.80" cy="468.85" r="5.45" fill="#fff" stroke="#ff0000" stroke-width="2.3"/>
<polyline points="660.50,578.35 663.71,578.26 666.91,578.04 670.12,577.71 673.32,577.28 676.53,576.75 679.74,576.12 682.94,575.41 686.15,574.62 689.35,573.74 692.56,572.77 695.77,571.73 698.97,570.61 702.18,569.41 705.38,568.14 708.59,566.79 711.80,565.36 715.00,563.86 718.21,562.30 721.41,560.65 724.32,323.02 740.75,270.18 757.19,487.26 772.34,601.06 792.64,601.06" fill="none" stroke="#0000cc" stroke-width="4.4" stroke-linejoin="round"/>
<polyline points="795.87,601.06 806.50,601.06 821.65,466.94 837.76,381.11 853.88,416.26 870.00,443.75 886.11,462.64 902.22,472.92 918.34,481.52 928.98,485.78" fill="none" stroke="#0000cc" stroke-width="4.4" stroke-linejoin="round"/>
<polyline points="931.23,486.69 934.45,487.98 950.57,488.22 966.68,482.00 982.80,468.85" fill="none" stroke="#0000cc" stroke-width="4.4" stroke-linejoin="round"/>
<rect x="651.90" y="167.80" width="339.40" height="446.20" fill="none" stroke="#000" stroke-width="2.3"/>
<rect x="874.90" y="177.10" width="108.20" height="71.10" fill="#fff" stroke="#000" stroke-width="2.1"/>
<text x="876.74" y="202.70" font-size="33.2" fill="#000" >(b)</text>
<text transform="translate(920.86,199.10) scale(1,1.04)" x="0" y="0" font-size="18.9" fill="#000" >-55°C</text>
<line x1="881.60" y1="213.70" x2="916.30" y2="213.70" stroke="#ff0000" stroke-width="3.9"/>
<circle cx="898.60" cy="213.70" r="5.5" fill="#fff" stroke="#ff0000" stroke-width="1.9"/>
<line x1="881.60" y1="234.80" x2="916.30" y2="234.80" stroke="#0000cc" stroke-width="3.8"/>
<text x="385.43" y="216.20" font-size="19.1" fill="#000" >Cu</text>
<text x="385.74" y="237.90" font-size="18.9" fill="#000" >Solder</text>
<text x="928.13" y="219.20" font-size="19.1" fill="#000" >Cu</text>
<text x="923.24" y="240.00" font-size="18.9" fill="#000" >Solder</text>
</svg>
</body></html>
